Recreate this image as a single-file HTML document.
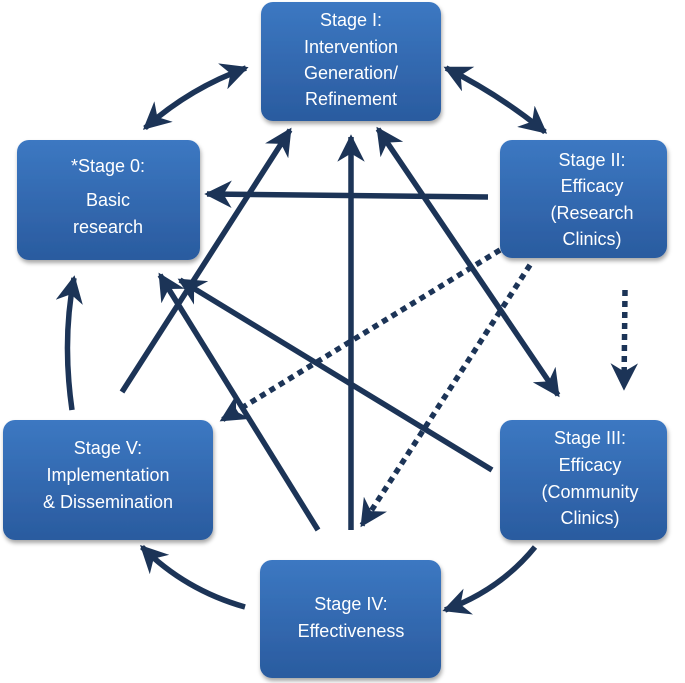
<!DOCTYPE html>
<html><head><meta charset="utf-8"><style>
html,body{margin:0;padding:0;background:#fff;width:685px;height:683px;overflow:hidden}
svg{display:block}
text{font-family:"Liberation Sans Narrow","Liberation Sans",sans-serif;fill:#fff;font-size:18px;text-anchor:middle}
</style></head><body>
<svg width="685" height="683" viewBox="0 0 685 683" xmlns="http://www.w3.org/2000/svg">
<defs>
<linearGradient id="g" x1="0" y1="0" x2="0" y2="1">
<stop offset="0" stop-color="#3c78c2"/><stop offset="1" stop-color="#2a5b9f"/>
</linearGradient>
<filter id="s" x="-10%" y="-10%" width="130%" height="130%"><feDropShadow dx="1" dy="3" stdDeviation="2" flood-color="#000" flood-opacity="0.35"/></filter>
<marker id="a" viewBox="0 0 10 10" refX="9" refY="5" markerWidth="5" markerHeight="5" orient="auto-start-reverse" markerUnits="strokeWidth">
<path d="M0,0 L10,5 L0,10 L3,5 Z" fill="#1c3457"/>
</marker>
</defs>
<g stroke="#1c3457" stroke-width="5.5" fill="none">
<!-- curved double arrows -->
<path d="M145,128 Q190,88 246,68" marker-start="url(#a)" marker-end="url(#a)"/>
<path d="M446,68 Q500,95 545,132" marker-start="url(#a)" marker-end="url(#a)"/>
<!-- Stage II -> Stage 0 -->
<path d="M488,197 L207,194" marker-end="url(#a)"/>
<!-- Stage V -> Stage 0 -->
<path d="M72,410 Q62,340 74,278" marker-end="url(#a)"/>
<!-- Stage V -> Stage I -->
<path d="M122,392 L290,130" marker-end="url(#a)"/>
<!-- Stage IV -> Stage 0 -->
<path d="M318,530 L160,275" marker-end="url(#a)"/>
<!-- Stage III -> Stage 0 -->
<path d="M492,470 L180,280" marker-end="url(#a)"/>
<!-- Stage IV -> Stage I -->
<path d="M351,530 L351,137" marker-end="url(#a)"/>
<!-- Stage I <-> Stage III -->
<path d="M378,129 L558,395" marker-start="url(#a)" marker-end="url(#a)"/>
<!-- dotted -->
<path d="M500,250 L222,420" stroke-dasharray="6,5" marker-end="url(#a)"/>
<path d="M530,265 L362,525" stroke-dasharray="6,5" marker-end="url(#a)"/>
<path d="M625,290 L624,388" stroke-dasharray="6,5" marker-end="url(#a)"/>
<!-- bottom curves -->
<path d="M535,547 Q500,590 445,610" marker-end="url(#a)"/>
<path d="M245,607 Q185,590 142,547" marker-end="url(#a)"/>
</g>
<g filter="url(#s)" fill="url(#g)">
<rect x="261" y="2" width="180" height="119" rx="12"/>
<rect x="17" y="140" width="183" height="120" rx="12"/>
<rect x="500" y="140" width="167" height="118" rx="12"/>
<rect x="3" y="420" width="210" height="120" rx="12"/>
<rect x="500" y="420" width="167" height="120" rx="12"/>
<rect x="260" y="560" width="181" height="118" rx="12"/>
</g>
<text x="351" y="26">Stage I:</text>
<text x="351" y="53">Intervention</text>
<text x="351" y="79">Generation/</text>
<text x="351" y="105">Refinement</text>
<text x="108" y="172">*Stage 0:</text>
<text x="108" y="206">Basic</text>
<text x="108" y="233">research</text>
<text x="592" y="166">Stage II:</text>
<text x="592" y="192">Efficacy</text>
<text x="592" y="219">(Research</text>
<text x="592" y="245">Clinics)</text>
<text x="108" y="454">Stage V:</text>
<text x="108" y="481">Implementation</text>
<text x="108" y="508">&amp; Dissemination</text>
<text x="590" y="444">Stage III:</text>
<text x="590" y="471">Efficacy</text>
<text x="590" y="498">(Community</text>
<text x="590" y="524">Clinics)</text>
<text x="351" y="610">Stage IV:</text>
<text x="351" y="637">Effectiveness</text>
</svg>
</body></html>
